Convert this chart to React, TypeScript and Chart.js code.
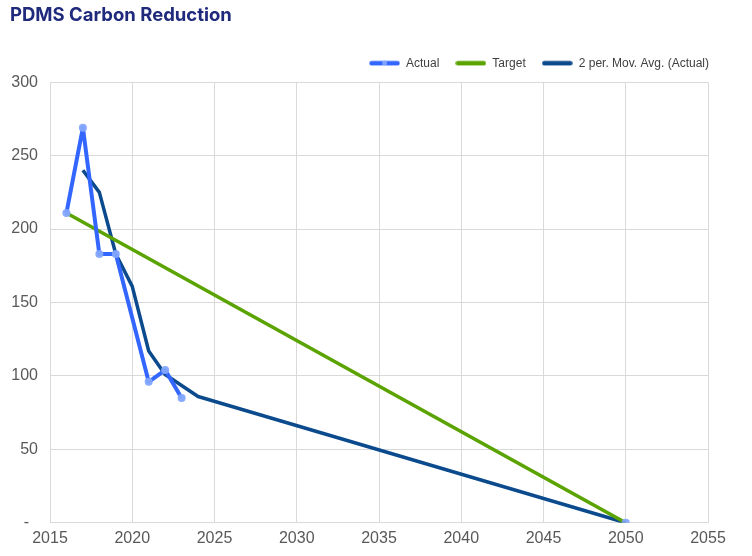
import React, { useEffect, useRef } from "react";
import { Chart, registerables } from "chart.js";

Chart.register(...registerables);

const titleText = "PDMS Carbon Reduction";
const seriesNames = ["Actual", "Target", "2 per. Mov. Avg. (Actual)"];

// Actual (gap between 2023 and 2050)
const actualYears = [2016, 2017, 2018, 2019, 2021, 2022, 2023, 2024, 2050];
const actualValues: (number | null)[] = [211, 269, 183, 183, 96, 104, 85, null, 0];

// Target
const targetYears = [2016, 2050];
const targetValues = [211, 0];

// 2 period moving average of Actual
const mavgYears = [2017, 2018, 2019, 2020, 2021, 2022, 2024, 2050];
const mavgValues = [240, 225, 183, 161, 117, 101, 86, 0];

const xTicks = { min: 2015, max: 2055, step: 5 };
const yTicks = { min: 0, max: 300, step: 50 };

const COLORS = {
  actual: "#3366ff",
  actualMarker: "rgba(130,165,255,0.95)",
  target: "#5aa300",
  mavg: "#0b4a8c",
  title: "#1f2a7c",
  text: "#595959",
  legendText: "#404040",
  grid: "#d9d9d9",
};

function swatch(color: string, dot?: string) {
  const c = document.createElement("canvas");
  c.width = 31;
  c.height = 6;
  const ctx = c.getContext("2d")!;
  ctx.strokeStyle = color;
  ctx.lineWidth = 4.5;
  ctx.lineCap = "round";
  ctx.beginPath();
  ctx.moveTo(2.5, 3);
  ctx.lineTo(28.5, 3);
  ctx.stroke();
  if (dot) {
    ctx.fillStyle = dot;
    ctx.beginPath();
    ctx.arc(15.5, 3, 2.5, 0, Math.PI * 2);
    ctx.fill();
  }
  return c;
}

const zip = (xs: number[], ys: (number | null)[]) => xs.map((x, i) => ({ x, y: ys[i] }));

const legendShift = {
  id: "legendShift",
  afterLayout(chart: any) {
    const lg = chart.legend;
    if (!lg) return;
    lg.left += 17;
    lg.right += 17;
    lg.top -= 3;
    lg.bottom -= 3;
  },
};

export default function App() {
  const ref = useRef<HTMLCanvasElement | null>(null);
  useEffect(() => {
    if (!ref.current) return;
    const swatches = [
      swatch(COLORS.actual, COLORS.actualMarker),
      swatch(COLORS.target),
      swatch(COLORS.mavg),
    ];
    const chart = new Chart(ref.current, {
      type: "line",
      data: {
        datasets: [
          {
            label: seriesNames[0],
            data: zip(actualYears, actualValues) as any,
            borderColor: COLORS.actual,
            backgroundColor: COLORS.actual,
            borderWidth: 4,
            borderJoinStyle: "round",
            pointRadius: 4,
            pointStyle: "circle",
            pointBackgroundColor: COLORS.actualMarker,
            pointBorderWidth: 0,
            spanGaps: false,
          },
          {
            label: seriesNames[1],
            data: zip(targetYears, targetValues) as any,
            borderColor: COLORS.target,
            backgroundColor: COLORS.target,
            borderWidth: 3.5,
            borderJoinStyle: "round",
            pointRadius: 0,
          },
          {
            label: seriesNames[2],
            data: zip(mavgYears, mavgValues) as any,
            borderColor: COLORS.mavg,
            backgroundColor: COLORS.mavg,
            borderWidth: 3.5,
            borderJoinStyle: "round",
            pointRadius: 0,
          },
        ],
      },
      plugins: [legendShift],
      options: {
        animation: false,
        responsive: true,
        maintainAspectRatio: false,
        parsing: false as any,
        layout: { padding: { left: 10, right: 44, top: 0, bottom: 2 } },
        plugins: {
          title: {
            display: true,
            text: titleText,
            align: "start",
            color: COLORS.title,
            font: { family: "Inter", size: 18.5, weight: "bold" },
            padding: { top: 4, bottom: 18 },
          },
          legend: {
            position: "top",
            align: "end",
            labels: {
              usePointStyle: true,
              pointStyleWidth: 31,
              boxHeight: 6,
              padding: 16,
              color: COLORS.legendText,
              font: { family: "Liberation Sans", size: 12 },
              generateLabels: (ch: any) =>
                ch.data.datasets.map((d: any, i: number) => ({
                  text: d.label,
                  pointStyle: swatches[i],
                  fillStyle: d.borderColor,
                  strokeStyle: d.borderColor,
                  lineWidth: 0,
                  hidden: false,
                  datasetIndex: i,
                  fontColor: COLORS.legendText,
                })),
            },
          },
          tooltip: { enabled: false },
        },
        scales: {
          x: {
            type: "linear",
            min: xTicks.min,
            max: xTicks.max,
            grid: { color: COLORS.grid, drawTicks: false },
            border: { color: COLORS.grid },
            ticks: {
              stepSize: xTicks.step,
              padding: 6,
              color: COLORS.text,
              font: { family: "Liberation Sans", size: 16 },
              callback: (v: any) => String(v),
            },
          },
          y: {
            type: "linear",
            min: yTicks.min,
            max: yTicks.max,
            grid: { color: COLORS.grid, drawTicks: false },
            border: { color: COLORS.grid },
            afterFit: (s: any) => {
              s.width = 40;
            },
            ticks: {
              stepSize: yTicks.step,
              padding: 12,
              color: COLORS.text,
              font: { family: "Liberation Sans", size: 16 },
              callback: (v: any) => (v === 0 ? "-  " : String(v)),
            },
          },
        },
      },
    });
    return () => chart.destroy();
  }, []);
  return (
    <div style={{ position: "absolute", left: 0, top: 0, width: 752, height: 556, background: "#fff" }}>
      <canvas ref={ref} />
    </div>
  );
}
